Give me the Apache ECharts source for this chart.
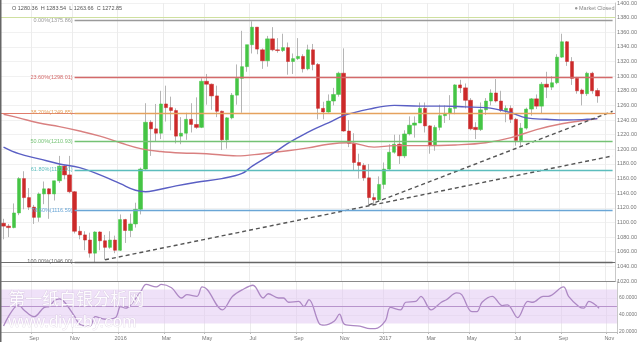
<!DOCTYPE html>
<html><head><meta charset="utf-8">
<script src="https://cdn.jsdelivr.net/npm/echarts@6/dist/echarts.min.js"></script>
<style>html,body{margin:0;padding:0;background:#fff}#c{width:640px;height:342px}</style>
</head><body><div id="c"></div>
<script>
// ---- data (weekly XAU/USD, weeks starting Monday) ----
const firstWeek = '2015-07-27';
const weekCount = 121; // includes empty weeks at right
const open  = [1099,1095,1093,1113,1160,1134,1121,1107,1139,1146,1139,1157,1177,1165,1142,1088,1083,1076,1058,1087,1075,1066,1076,
1062,1104,1089,1098,1118,1173,1237,1228,1222,1262,1257,1253,1218,1222,1241,1234,1230,1293,1289,1273,1252,1213,1243,1274,1297,1313,1343,1367,1336,1321,1351,1336,1335,1339,1320,1324,1327,1310,1336,1316,1256,1251,1266,1275,1304,1225,1208,1182,1178,1161,1134,1131,
1152,1173,1196,1207,1191,1221,1233,1236,1256,1232,1205,1230,1246,1249,1256,1288,1284,1267,1230,1227,1254,1266,1277,1266,1253,1256,1241,1212,1229,1255,1269,1259,1289,1285,1291,1326,1347,1320,1297,1281,1276,1304,1280.36];
const high  = [1105,1098,1126,1162,1170,1147,1124,1141,1156,1147,1157,1191,1178,1191,1143,1095,1088,1086,1088,1088,1083,1088,1082,
1111,1105,1112,1127,1175,1263,1240,1262,1280,1287,1272,1256,1244,1250,1263,1271,1297,1303,1290,1287,1253,1244,1277,1316,1362,1342,1375,1367,1338,1355,1367,1352,1358,1346,1331,1352,1330,1343,1344,1318,1265,1275,1284,1306,1338,1240,1222,1194,1181,1180,1140,1163,
1182,1207,1220,1220,1226,1245,1245,1264,1264,1233,1233,1261,1260,1274,1289,1295,1290,1270,1237,1264,1270,1282,1296,1280,1260,1260,1243,1236,1257,1270,1275,1292,1306,1300,1330,1358,1348,1326,1299,1283,1306,1306,1283.54];
const low   = [1077,1080,1092,1110,1118,1117,1098,1101,1125,1105,1130,1154,1159,1140,1085,1077,1062,1052,1046,1062,1049,1064,1058,
1061,1072,1080,1093,1111,1172,1191,1210,1214,1238,1226,1208,1207,1213,1223,1228,1229,1261,1254,1244,1199,1201,1241,1261,1250,1306,1331,1330,1310,1313,1334,1332,1333,1302,1303,1322,1305,1308,1308,1241,1241,1250,1260,1272,1224,1203,1171,1160,1157,1122,1124,1128,
1146,1172,1194,1180,1188,1219,1216,1236,1223,1194,1198,1226,1236,1240,1248,1277,1256,1226,1214,1225,1247,1260,1264,1251,1237,1236,1205,1204,1227,1246,1255,1249,1270,1281,1289,1325,1314,1288,1276,1260,1273,1276,1263.66];
const close = [1095,1093,1113,1160,1134,1121,1107,1139,1146,1139,1157,1177,1165,1142,1088,1083,1076,1058,1087,1075,1066,1076,1062,
1104,1089,1098,1118,1173,1237,1228,1222,1262,1257,1253,1218,1222,1241,1234,1230,1293,1289,1273,1252,1213,1243,1274,1297,1313,1343,1367,1337,1321,1351,1336,1335,1339,1320,1324,1327,1310,1336,1316,1256,1251,1266,1275,1304,1225,1208,1182,1178,1161,1134,1131,1152,
1173,1196,1207,1191,1221,1233,1236,1256,1232,1205,1230,1246,1249,1256,1288,1284,1267,1228,1227,1254,1266,1277,1266,1253,1256,1241,1212,1229,1255,1269,1259,1289,1285,1291,1326,1347,1320,1297,1280,1276,1304,1280,1272.85];
// moving averages: [week index, price]
const blueMA = [[0,1203],[3,1194],[7,1187],[11,1180],[15,1175],[19,1165],[23,1153],[26,1144],[28,1142],[30,1144],[34,1150],[38,1155],[43,1160],[47,1167],[49,1177],[53,1194],[56,1208],[58,1216],[61,1227],[64,1236],[67,1246],[72,1255],[77,1260],[82,1259],[87,1259],[91,1258],[95,1257],[97,1255],[100,1250],[103,1243],[107,1241],[111,1240],[115,1241],[117,1242]];
const redMA  = [[0,1248],[3,1243],[7,1236],[11,1231],[15,1225],[19,1218],[23,1209],[27,1201],[31,1197],[35,1195],[40,1194],[46,1191],[51,1194],[56,1198],[60,1202],[64,1207],[68,1209],[73,1203],[77,1205],[83,1205],[89,1206],[95,1209],[100,1216],[105,1227],[110,1235],[115,1240],[117,1242]];
// RSI: [week index, value]
const rsi = [[0,27],[3,52],[4,46],[6,38],[8,49],[9,50],[10,57],[11,59],[12,55],[14,38],[15,29],[17,27],[18,38],[20,35],[22,37],[23,50],[24,48],[25,52],[27,68],[28,76],[30,73],[31,76],[33,72],[35,60],[36,64],[38,62],[39,73],[40,70],[43,46],[45,62],[47,70],[49,75],[51,60],[52,65],[54,60],[55,60],[56,55],[58,56],[59,50],[60,58],[62,30],[63,28],[65,33],[66,41],[67,29],[70,27],[72,24],[73,24],[75,33],[76,49],[78,46],[79,55],[81,56],[82,62],[84,46],[86,55],[87,58],[89,66],[90,64],[92,44],[93,44],[94,55],[96,62],[98,51],[99,52],[101,37],[103,56],[104,55],[106,62],[107,62],[110,73],[111,62],[113,50],[114,48],[115,56],[117,48]];
// Fibonacci retracement levels
const fibPct   = ['0.00%','23.60%','38.20%','50.00%','61.80%','78.60%','100.00%'];
const fibPrice = [1375.86,1298.01,1249.85,1210.93,1172.01,1116.59,1046.00];
const fibStartWeek = 14;
// extra horizontal levels
const extraLevels = [1380, 1249.85, 1046.00];
// trend lines [week index, price]
const trendA = [[20,1049],[120,1191]];
const trendB = [[72,1124],[120,1252]];
const rsiBand = [30, 70];
const rsiMid = 50;
const ohlcHeader = ['O 1280.36','H 1283.54','L 1263.66','C 1272.85'];
const monthNames = ['Jan','Feb','Mar','Apr','May','Jun','Jul','Aug','Sep','Oct','Nov','Dec'];

// ---- build ----
const cats = [];
{ let t = Date.parse(firstWeek + 'T00:00:00Z'); for (let i = 0; i < weekCount; i++) { cats.push(new Date(t).toISOString().slice(0,10)); t += 7*864e5; } }
const showMonth = (idx, val) => { const d = new Date(val + 'T00:00:00Z'); return d.getUTCDate() <= 7 && d.getUTCMonth() % 2 === 0; };
const fmtMonth = (val) => { const d = new Date(val + 'T00:00:00Z'); return d.getUTCMonth() === 0 ? String(d.getUTCFullYear()) : monthNames[d.getUTCMonth()]; };

const wickData = open.map((o,i)=>[o, close[i], low[i], high[i]]);
const bodyData = open.map((o,i)=>[o, close[i], Math.min(o,close[i]), Math.max(o,close[i])]);
const fibColors = ['#9a9a9a','#d46a6a','#e5a25e','#74c274','#5cbdbd','#6aa6d6','#666666'];
const FONT = 'Liberation Sans, Arial, sans-serif';

const fibLines = fibPrice.map((p,k)=>[
  {coord:[cats[fibStartWeek], p], lineStyle:{color:fibColors[k], width:1.3, type:'solid'},
   label:{show:true, position:'start', distance:2, formatter: fibPct[k]+'('+p.toFixed(2)+')', color:fibColors[k], fontSize:5.5, fontFamily:FONT}},
  {coord:[cats[weekCount-1], p]}
]);
const extraColors = ['#cfe0a0','#e07c6c','#707070'];
const extraLines = extraLevels.map((p,k)=>({yAxis:p, lineStyle:{color:extraColors[k], width:1.2, type:'solid'}, label:{show:false}}));

const chart = echarts.init(document.getElementById('c'), null, {renderer:'canvas'});
chart.setOption({
  animation:false,
  backgroundColor:'#fff',
  textStyle:{fontFamily:FONT},
  grid:[
    {left:1, right:21, top:1, height:280},
    {left:1, right:21, top:281, height:51}
  ],
  xAxis:[
    {type:'category', gridIndex:0, data:cats, boundaryGap:true,
     axisLine:{show:true, lineStyle:{color:'#8a8a8a', width:1.2}}, axisTick:{show:false}, axisLabel:{show:false},
     splitLine:{show:true, interval:showMonth, lineStyle:{color:'#ececec', width:1}}},
    {type:'category', gridIndex:1, data:cats, boundaryGap:true,
     axisLine:{show:true, lineStyle:{color:'#bbb'}}, axisTick:{show:true, interval:showMonth, length:2, lineStyle:{color:'#bbb'}},
     axisLabel:{show:true, interval:showMonth, formatter:fmtMonth, fontSize:5.5, color:'#777', margin:3},
     splitLine:{show:true, interval:showMonth, lineStyle:{color:'#ececec', width:1}}}
  ],
  yAxis:[
    {type:'value', gridIndex:0, position:'right', min:1020, max:1400, interval:20,
     axisLine:{show:true, lineStyle:{color:'#c8c8c8'}}, axisTick:{show:false},
     axisLabel:{fontSize:5.5, color:'#777', margin:2, formatter:v=>v.toFixed(2)},
     splitLine:{show:true, lineStyle:{color:'#f1f1f1'}}},
    {type:'value', gridIndex:1, position:'right', min:20, max:80, interval:20,
     axisLine:{show:true, lineStyle:{color:'#c8c8c8'}}, axisTick:{show:false},
     axisLabel:{fontSize:5, color:'#777', margin:2, showMaxLabel:false, formatter:v=>v.toFixed(4)},
     splitLine:{show:true, lineStyle:{color:'#f1f1f1'}}}
  ],
  series:[
    {type:'line', xAxisIndex:0, yAxisIndex:0, data:[], silent:true,
     markLine:{symbol:['none','none'], silent:true, animation:false, data: extraLines}},
    {type:'line', xAxisIndex:0, yAxisIndex:0, data:[], silent:true,
     markLine:{symbol:['none','none'], silent:true, animation:false, data: fibLines}},
    {name:'redMA', type:'line', xAxisIndex:0, yAxisIndex:0, data:redMA.map(d=>[cats[d[0]], d[1]]), smooth:0.4, symbol:'none',
     lineStyle:{color:'#d98080', width:1.4}},
    {name:'blueMA', type:'line', xAxisIndex:0, yAxisIndex:0, data:blueMA.map(d=>[cats[d[0]], d[1]]), smooth:0.4, symbol:'none',
     lineStyle:{color:'#5a5fc4', width:1.4}},
    {name:'trendA', type:'line', xAxisIndex:0, yAxisIndex:0, data:trendA.map(d=>[cats[d[0]], d[1]]), symbol:'none',
     lineStyle:{color:'#555', width:1.4, type:[4,3]}},
    {name:'trendB', type:'line', xAxisIndex:0, yAxisIndex:0, data:trendB.map(d=>[cats[d[0]], d[1]]), symbol:'none',
     lineStyle:{color:'#555', width:1.4, type:[4,3]}},
    {name:'wick', type:'candlestick', xAxisIndex:0, yAxisIndex:0, data:wickData, barWidth:1,
     itemStyle:{color:'#b5b5b5', color0:'#b5b5b5', borderColor:'#b5b5b5', borderColor0:'#b5b5b5', borderWidth:1}},
    {name:'body', type:'candlestick', xAxisIndex:0, yAxisIndex:0, data:bodyData, barWidth:3.8,
     itemStyle:{color:'#45c545', color0:'#cc2a2a', borderColor:'#45c545', borderColor0:'#cc2a2a', borderWidth:0.5},
     markLine:{symbol:['none','none'], silent:true, animation:false,
       data:[{yAxis:close[close.length-1], lineStyle:{opacity:0},
         label:{show:true, position:'end', distance:1, formatter:close[close.length-1].toFixed(2), color:'#fff',
                backgroundColor:'#e0403c', padding:[1,2], fontSize:5.5}}]}},
    {name:'rsi', type:'line', xAxisIndex:1, yAxisIndex:1, data:rsi.map(d=>[cats[d[0]], d[1]]), smooth:0.35, symbol:'none',
     lineStyle:{color:'#ad88c4', width:1.3},
     markArea:{silent:true, itemStyle:{color:'rgba(224,195,242,0.5)'}, data:[[{yAxis:rsiBand[0]},{yAxis:rsiBand[1]}]]},
     markLine:{symbol:['none','none'], silent:true, animation:false, label:{show:false},
       data:[{yAxis:rsiMid, lineStyle:{color:'#b894cc', width:1, type:'solid'}}]}}
  ],
  graphic:[
    {type:'rect', left:0, top:0, z:100, shape:{width:1.5, height:342}, style:{fill:'#666'}},
    {type:'text', left:12, top:5, z:100, style:{text:ohlcHeader.join('  '), fontSize:5.5, fill:'#555', fontFamily:FONT}},
    {type:'circle', left:575, top:7, z:100, shape:{r:1.2}, style:{fill:'#999'}},
    {type:'text', left:579, top:5, z:100, style:{text:'Market Closed', fontSize:5.5, fill:'#888', fontFamily:FONT}},
    {type:'text', left:8, top:290, z:100, style:{text:'第一纸白银分析网', fontSize:17, fill:'rgba(255,255,255,0.9)', stroke:'rgba(190,170,200,0.5)', lineWidth:0.6, fontFamily:'Noto Sans CJK SC'}},
    {type:'text', left:8, top:314, z:100, style:{text:'www.diyizby.com', fontSize:17, fill:'rgba(255,255,255,0.9)', stroke:'rgba(190,170,200,0.5)', lineWidth:0.6, fontFamily:FONT}}
  ]
});
</script></body></html>
